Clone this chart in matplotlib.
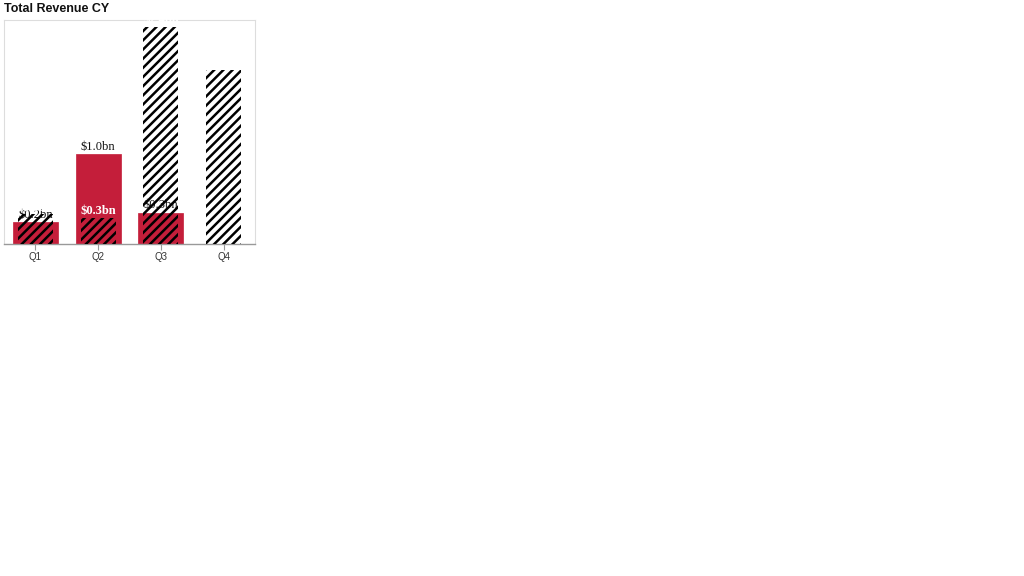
import matplotlib
matplotlib.use("Agg")
import matplotlib.pyplot as plt
import numpy as np

quarters = ["Q1", "Q2", "Q3", "Q4"]
actual = [0.245, 1.0, 0.35, None]          # red bars, $bn
comparison = [0.33, 0.29, 2.42, 1.94]      # hatched bars, $bn
actual_labels = ["$0.2bn", "$1.0bn", "$0.3bn", None]
comparison_labels = ["$0.3bn", "$0.3bn", "$2.4bn", "$1.9bn"]

DPI = 110
S = 100 / DPI  # keep text/line sizes in pixels the same as at 100 dpi

plt.rcParams["hatch.linewidth"] = 1.8 * S

fig = plt.figure(figsize=(1024 / DPI, 576 / DPI), dpi=DPI)
ax = fig.add_axes([4 / 1024, 1 - 244 / 576, 251 / 1024, 224 / 576])

x = np.arange(len(quarters))
red = "#C41E3A"

for i, v in enumerate(actual):
    if v is None:
        continue
    ax.bar(x[i], v, width=0.72, color=red, edgecolor=red, linewidth=0.5 * S, zorder=2)
    ax.text(x[i], v + 0.015, actual_labels[i], ha="center", va="bottom",
            fontsize=9 * S, family="Liberation Serif", color="#111111", zorder=3)

for i, v in enumerate(comparison):
    ax.bar(x[i], v, width=0.56, facecolor="none", edgecolor="black",
           linewidth=0, hatch="////", zorder=4)
    ax.text(x[i], v + 0.01, comparison_labels[i], ha="center", va="bottom",
            fontsize=9 * S, family="Liberation Serif", fontweight="bold",
            color="white", zorder=5, clip_on=False)

ax.set_xlim(-0.5, 3.5)
ax.set_ylim(0, 2.5)
ax.set_yticks([])
ax.set_xticks(x)
ax.set_xticklabels(quarters, fontsize=7 * S, family="Liberation Sans", color="#333333")
ax.tick_params(axis="x", length=4 * S, width=0.8 * S, color="#999999", pad=2 * S)

for s in ["left", "top", "right"]:
    ax.spines[s].set_color("#dddddd")
    ax.spines[s].set_linewidth(0.8 * S)
ax.spines["bottom"].set_color("#999999")
ax.spines["bottom"].set_linewidth(1.0 * S)

fig.text(4 / 1024, 1 - 8.5 / 576, "Total Revenue CY", ha="left", va="center",
         fontsize=9 * S, fontweight="bold", family="Liberation Sans", color="#111111")

fig.savefig("out.png", dpi=DPI)
